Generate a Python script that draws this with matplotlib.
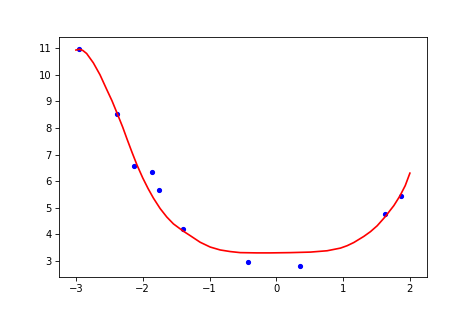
import matplotlib
matplotlib.use("Agg")
import matplotlib.pyplot as plt
import numpy as np

# measured points (blue dots)
x_points = [-2.95, -2.38, -2.13, -1.86, -1.76, -1.40, -0.43, 0.36, 1.62, 1.86]
y_points = [10.97, 8.54, 6.58, 6.34, 5.67, 4.18, 2.94, 2.80, 4.77, 5.44]

# fitted curve (red)
x_curve = [-3.00, -2.95, -2.90, -2.84, -2.74, -2.64, -2.54, -2.46, -2.38, -2.30,
           -2.235, -2.16, -2.085, -2.00, -1.92, -1.84, -1.74, -1.64, -1.54, -1.40,
           -1.29, -1.14, -0.99, -0.84, -0.69, -0.54, -0.29, -0.09, 0.21, 0.51,
           0.76, 0.96, 1.06, 1.16, 1.31, 1.41, 1.51, 1.63, 1.76, 1.85,
           1.93, 2.00]
y_curve = [10.93, 10.96, 10.92, 10.80, 10.45, 10.00, 9.45, 9.02, 8.53, 8.03,
           7.58, 7.08, 6.60, 6.12, 5.72, 5.36, 4.97, 4.65, 4.39, 4.13,
           3.95, 3.70, 3.52, 3.41, 3.35, 3.31, 3.30, 3.30, 3.31, 3.33,
           3.38, 3.48, 3.57, 3.69, 3.92, 4.10, 4.32, 4.66, 5.08, 5.44,
           5.83, 6.30]

plt.rcParams["font.size"] = 7.2
plt.rcParams["axes.linewidth"] = 0.6
plt.rcParams["xtick.major.width"] = 0.6
plt.rcParams["ytick.major.width"] = 0.6
plt.rcParams["xtick.major.size"] = 2.6
plt.rcParams["ytick.major.size"] = 2.6
plt.rcParams["xtick.major.pad"] = 2.8
plt.rcParams["ytick.major.pad"] = 2.8

fig = plt.figure(figsize=(4.74, 3.16), dpi=100)
ax = fig.add_axes([0.125, 0.124, 0.775, 0.758])

ax.plot(np.array(x_points), np.array(y_points), "b.", markersize=5.5)
ax.plot(np.array(x_curve), np.array(y_curve), "r-", linewidth=1.2)

ax.set_xticks([-3, -2, -1, 0, 1, 2])
ax.set_yticks([3, 4, 5, 6, 7, 8, 9, 10, 11])
ax.set_xlim(-3.25, 2.25)
ax.set_ylim(2.40, 11.41)

fig.savefig("out.png", dpi=100)
